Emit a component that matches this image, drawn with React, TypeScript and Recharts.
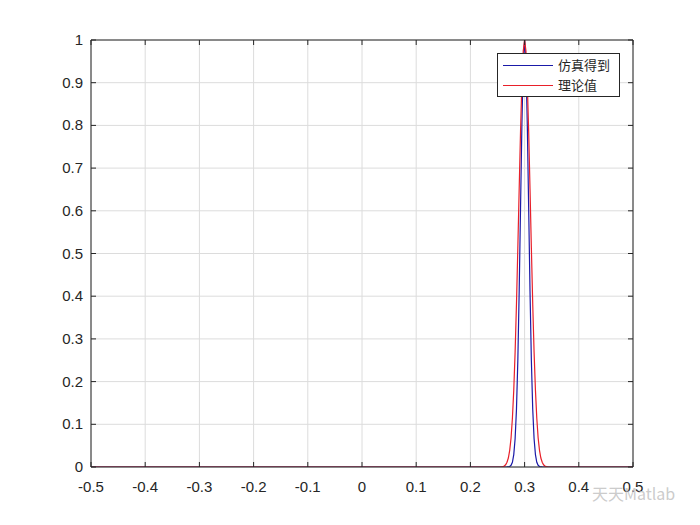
import React from 'react';
import { LineChart, Line, XAxis, YAxis, CartesianGrid, Legend } from 'recharts';

const xValues = [
  -0.5, 0.25,
  0.255, 0.2575, 0.26, 0.2625, 0.265, 0.2675, 0.27, 0.2725, 0.275, 0.2775,
  0.28, 0.2825, 0.285, 0.2875, 0.29, 0.2925, 0.295, 0.2975, 0.3,
  0.3025, 0.305, 0.3075, 0.31, 0.3125, 0.315, 0.3175, 0.32, 0.3225, 0.325,
  0.3275, 0.33, 0.3325, 0.335, 0.3375, 0.34, 0.3425, 0.345,
  0.35, 0.5,
];

const simulated = [
  0, 0,
  0, 0, 0, 0, 0, 0.0001, 0.0003, 0.0012, 0.004, 0.011,
  0.029, 0.066, 0.135, 0.249, 0.411, 0.607, 0.801, 0.946, 1,
  0.946, 0.801, 0.607, 0.411, 0.249, 0.135, 0.066, 0.029, 0.011, 0.004,
  0.0012, 0.0003, 0.0001, 0, 0, 0, 0, 0,
  0, 0,
];

const theory = [
  0, 0,
  0, 0.0004, 0.001, 0.0024, 0.0052, 0.011, 0.021, 0.039, 0.068, 0.114,
  0.18, 0.269, 0.381, 0.512, 0.651, 0.786, 0.898, 0.974, 1,
  0.974, 0.898, 0.786, 0.651, 0.512, 0.381, 0.269, 0.18, 0.114, 0.068,
  0.039, 0.021, 0.011, 0.0052, 0.0024, 0.001, 0.0004, 0,
  0, 0,
];

const xTicks = [-0.5, -0.4, -0.3, -0.2, -0.1, 0, 0.1, 0.2, 0.3, 0.4, 0.5];
const xTickLabels = ['-0.5', '-0.4', '-0.3', '-0.2', '-0.1', '0', '0.1', '0.2', '0.3', '0.4', '0.5'];
const yTicks = [0, 0.1, 0.2, 0.3, 0.4, 0.5, 0.6, 0.7, 0.8, 0.9, 1];
const yTickLabels = ['0', '0.1', '0.2', '0.3', '0.4', '0.5', '0.6', '0.7', '0.8', '0.9', '1'];

const seriesNames = ['仿真得到', '理论值'];
const seriesColors = ['#1a1aa8', '#e8202a'];

const data = xValues.map((x, i) => ({ x, sim: simulated[i], theo: theory[i] }));

const AXIS = '#262626';
const FONT = '"Liberation Sans", Arial, Helvetica, sans-serif';

const labelFor = (v: number, ticks: number[], labels: string[]) => {
  const i = ticks.findIndex((t) => Math.abs(t - v) < 1e-9);
  return i >= 0 ? labels[i] : String(v);
};

const BottomTick = (props: any) => {
  const { x, y, payload } = props;
  return (
    <g>
      <line x1={x} x2={x} y1={y} y2={y - 5} stroke={AXIS} strokeWidth={1} />
      <text x={x} y={y + 25} textAnchor="middle" fontSize={15} fill={AXIS} fontFamily={FONT}>
        {labelFor(payload.value, xTicks, xTickLabels)}
      </text>
    </g>
  );
};

const TopTick = (props: any) => {
  const { x, y } = props;
  return <line x1={x} x2={x} y1={y} y2={y + 5} stroke={AXIS} strokeWidth={1} />;
};

const LeftTick = (props: any) => {
  const { x, y, payload } = props;
  return (
    <g>
      <line x1={x} x2={x + 5} y1={y} y2={y} stroke={AXIS} strokeWidth={1} />
      <text x={x - 8} y={y + 5} textAnchor="end" fontSize={15} fill={AXIS} fontFamily={FONT}>
        {labelFor(payload.value, yTicks, yTickLabels)}
      </text>
    </g>
  );
};

const RightTick = (props: any) => {
  const { x, y } = props;
  return <line x1={x} x2={x - 5} y1={y} y2={y} stroke={AXIS} strokeWidth={1} />;
};

const LegendBox = () => (
  <div
    style={{
      width: 121,
      height: 42,
      border: '1px solid #262626',
      background: '#ffffff',
      fontFamily: '"Noto Sans CJK SC", sans-serif',
      fontSize: 13,
      color: '#262626',
      boxSizing: 'content-box',
    }}
  >
    {seriesNames.map((name, i) => (
      <div key={name} style={{ display: 'flex', alignItems: 'center', height: 20, marginTop: i === 0 ? 1 : 0 }}>
        <svg width={60} height={20} style={{ display: 'block', flex: 'none' }}>
          <line x1={5} x2={55} y1={10.5} y2={10.5} stroke={seriesColors[i]} strokeWidth={1.2} />
        </svg>
        <span style={{ lineHeight: '20px' }}>{name}</span>
      </div>
    ))}
  </div>
);

export default function App() {
  return (
    <div style={{ position: 'absolute', left: 0, top: 0, width: 700, height: 525, background: '#fff' }}>
      <LineChart
        width={700}
        height={525}
        data={data}
        margin={{ top: 39, right: 66, bottom: 0, left: 0 }}
      >
        <CartesianGrid
          xAxisId="bottom"
          yAxisId="left"
          stroke="#dcdcdc"
          strokeWidth={1}
          horizontalValues={yTicks}
          verticalValues={xTicks}
        />
        <XAxis
          xAxisId="bottom"
          dataKey="x"
          type="number"
          domain={[-0.5, 0.5]}
          ticks={xTicks}
          interval={0}
          height={58}
          tickSize={0}
          tickMargin={0}
          tickLine={false}
          stroke={AXIS}
          tick={<BottomTick />}
          allowDataOverflow
        />
        <XAxis
          xAxisId="top"
          orientation="top"
          dataKey="x"
          type="number"
          domain={[-0.5, 0.5]}
          ticks={xTicks}
          interval={0}
          height={1}
          tickSize={0}
          tickMargin={0}
          tickLine={false}
          stroke={AXIS}
          tick={<TopTick />}
          allowDataOverflow
        />
        <YAxis
          yAxisId="left"
          type="number"
          domain={[0, 1]}
          ticks={yTicks}
          interval={0}
          width={91}
          tickSize={0}
          tickMargin={0}
          tickLine={false}
          stroke={AXIS}
          tick={<LeftTick />}
          allowDataOverflow
        />
        <YAxis
          yAxisId="right"
          orientation="right"
          type="number"
          domain={[0, 1]}
          ticks={yTicks}
          interval={0}
          width={1}
          tickSize={0}
          tickMargin={0}
          tickLine={false}
          stroke={AXIS}
          tick={<RightTick />}
          allowDataOverflow
        />
        <Line
          xAxisId="bottom"
          yAxisId="left"
          type="linear"
          dataKey="sim"
          name={seriesNames[0]}
          stroke={seriesColors[0]}
          strokeWidth={1.2}
          dot={false}
          isAnimationActive={false}
        />
        <Line
          xAxisId="bottom"
          yAxisId="left"
          type="linear"
          dataKey="theo"
          name={seriesNames[1]}
          stroke={seriesColors[1]}
          strokeWidth={1.2}
          dot={false}
          isAnimationActive={false}
        />
        <Legend
          layout="vertical"
          align="center"
          verticalAlign="middle"
          content={<LegendBox />}
          wrapperStyle={{ position: 'absolute', left: 497, top: 53, width: 123, height: 44 }}
        />
      </LineChart>
      <div
        style={{
          position: 'absolute',
          left: 592,
          top: 481,
          fontFamily: '"Noto Sans CJK SC", sans-serif',
          fontSize: 16,
          color: 'rgba(190,190,190,0.8)',
          whiteSpace: 'nowrap',
        }}
      >
        天天Matlab
      </div>
    </div>
  );
}
